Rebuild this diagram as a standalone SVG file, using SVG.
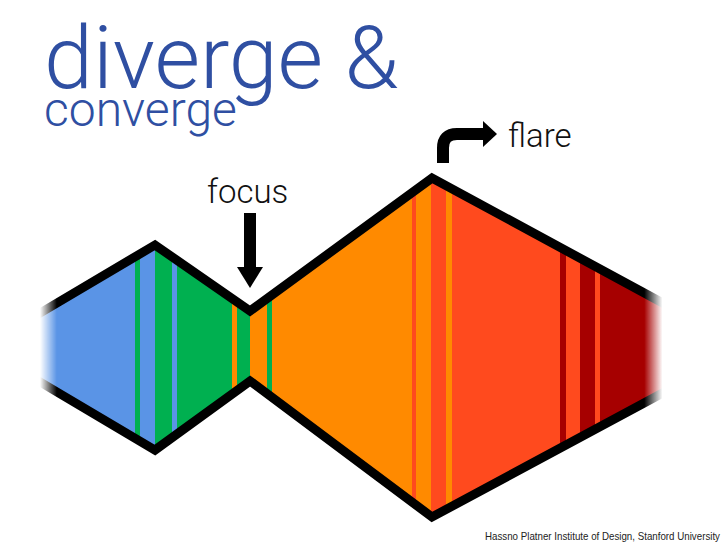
<svg xmlns="http://www.w3.org/2000/svg" width="728" height="546" viewBox="0 0 728 546">
<style>
.title{font-family:Roboto,"Liberation Sans",sans-serif;font-weight:300;fill:#2F4FA2}
.lbl{font-family:Roboto,"Liberation Sans",sans-serif;font-weight:300;fill:#111;font-size:33px}
.foot{font-family:"Liberation Sans",Arial,sans-serif;font-size:10.5px;fill:#222}
.outline{fill:none;stroke:#000;stroke-width:9;stroke-linejoin:miter}
.b{fill:#5A94E6}.g{fill:#00B050}.o{fill:#FF8A00}.r{fill:#FF4A1E}.d{fill:#A60000}
</style>
<defs>
<clipPath id="shapeClip">
<polygon points="40,313 155,245 250,311 432,178 662,302 662,393 432,517 250,381 155,450 40,382"/>
</clipPath>
<linearGradient id="fade" x1="0" y1="0" x2="728" y2="0" gradientUnits="userSpaceOnUse">
<stop offset="0.055" stop-color="#fff" stop-opacity="0"/>
<stop offset="0.078" stop-color="#fff" stop-opacity="1"/>
<stop offset="0.885" stop-color="#fff" stop-opacity="1"/>
<stop offset="0.91" stop-color="#fff" stop-opacity="0"/>
</linearGradient>
<mask id="fadeMask" maskUnits="userSpaceOnUse" x="0" y="0" width="728" height="546">
<rect x="0" y="0" width="728" height="546" fill="url(#fade)"/>
</mask>
</defs>
<rect width="728" height="546" fill="#fff"/>
<g id="title">
<text class="title" x="44" y="88" font-size="88">diverge &amp;</text>
<text class="title" x="44" y="126" font-size="48">converge</text>
</g>
<g id="shape" mask="url(#fadeMask)">
<g clip-path="url(#shapeClip)">
<rect class="b" x="30" y="170" width="105" height="360"/>
<rect class="g" x="135" y="170" width="5" height="360"/>
<rect class="b" x="140" y="170" width="15" height="360"/>
<rect class="g" x="155" y="170" width="17" height="360"/>
<rect class="b" x="172" y="170" width="5" height="360"/>
<rect class="g" x="177" y="170" width="55" height="360"/>
<rect class="o" x="232" y="170" width="5" height="360"/>
<rect class="g" x="237" y="170" width="13" height="360"/>
<rect class="o" x="250" y="170" width="17" height="360"/>
<rect class="g" x="267" y="170" width="5" height="360"/>
<rect class="o" x="272" y="170" width="140" height="360"/>
<rect class="r" x="412" y="170" width="4" height="360"/>
<rect class="o" x="416" y="170" width="15" height="360"/>
<rect class="r" x="431" y="170" width="15" height="360"/>
<rect class="o" x="446" y="170" width="6" height="360"/>
<rect class="r" x="452" y="170" width="108" height="360"/>
<rect class="d" x="560" y="170" width="6" height="360"/>
<rect class="r" x="566" y="170" width="14" height="360"/>
<rect class="d" x="580" y="170" width="15" height="360"/>
<rect class="r" x="595" y="170" width="5" height="360"/>
<rect class="d" x="600" y="170" width="70" height="360"/>
</g>
<polyline class="outline" points="30,319 155,245 250,311 432,178 672,308"/>
<polyline class="outline" points="30,376 155,450 250,381 432,517 672,388"/>
</g>
<g id="focus">
<text class="lbl" x="207" y="203">focus</text>
<rect x="244" y="213" width="12" height="56" fill="#000"/>
<polygon points="237,267 263,267 250,288" fill="#000"/>
</g>
<g id="flare">
<text class="lbl" x="508" y="147">flare</text>
<path d="M443,163 V148 Q443,134 457,134 H485" fill="none" stroke="#000" stroke-width="12"/>
<polygon points="483,121 497,134 483,147" fill="#000"/>
</g>
<g id="footer">
<text class="foot" x="485" y="540" textLength="235" lengthAdjust="spacingAndGlyphs">Hassno Platner Institute of Design, Stanford University</text>
</g>
</svg>
